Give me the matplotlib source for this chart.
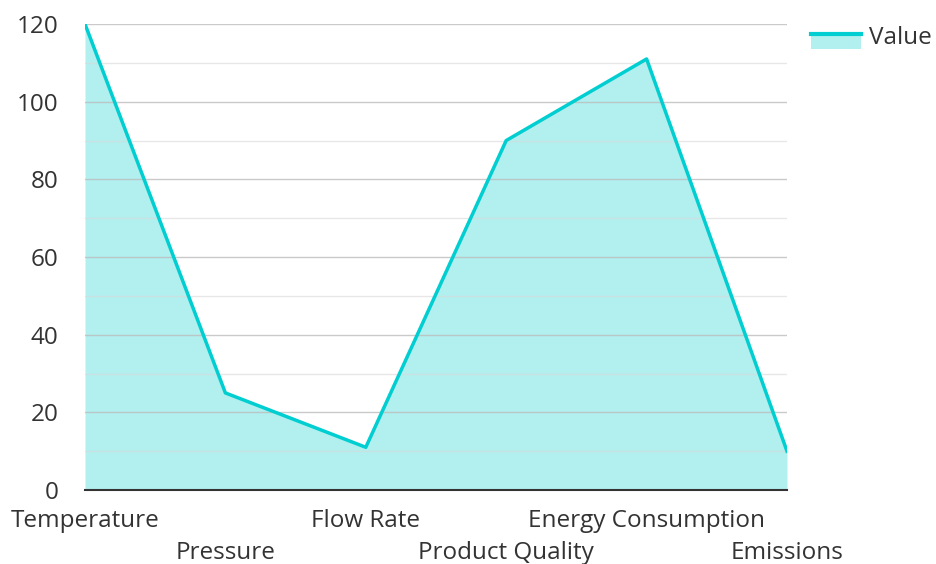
import matplotlib.pyplot as plt
from matplotlib.lines import Line2D
from matplotlib.patches import Patch, Rectangle


plt.rcParams['font.family'] = ['Open Sans', 'DejaVu Sans']

categories = ['Temperature', 'Pressure', 'Flow Rate', 'Product Quality', 'Energy Consumption', 'Emissions']
values = [120, 25, 11, 90, 111, 10]

line_color = '#00CED1'
fill_color = '#b2efef'
text_color = '#333333'
fsize = 17.5


# legend key: fill box hanging under a line drawn at the text's mid height
class AreaHandler:
    def legend_artist(self, legend, orig_handle, fontsize, handlebox):
        x0, y0 = handlebox.xdescent, handlebox.ydescent
        w, h = handlebox.width, handlebox.height
        top = y0 + h * 0.5 + 1
        bot = top - 11
        rect = Rectangle((x0, bot), w, top - bot, facecolor=fill_color,
                         edgecolor='none', transform=handlebox.get_transform())
        ln = Line2D([x0, x0 + w], [top, top], color=line_color, linewidth=3,
                    transform=handlebox.get_transform())
        handlebox.add_artist(rect)
        handlebox.add_artist(ln)
        return rect


fig = plt.figure(figsize=(9.36, 5.64), dpi=100)
ax = fig.add_axes([0.0908, 0.1312, 0.75, 0.8262])

x = list(range(len(categories)))
ax.fill_between(x, values, 0, color=fill_color, zorder=1, linewidth=0)
ax.plot(x, values, color=line_color, linewidth=2.5, zorder=3)

ax.set_xlim(0, len(categories) - 1)
ax.set_ylim(0, 120)
ax.set_yticks(range(0, 121, 20))
ax.set_yticks(range(10, 120, 20), minor=True)
ax.grid(True, which='major', axis='y', color='#bdbdbd', linewidth=1, alpha=0.8, zorder=2)
ax.grid(True, which='minor', axis='y', color='#d8d8d8', linewidth=1, alpha=0.6, zorder=2)
ax.set_axisbelow(False)

# staggered category labels: even ones on the first row, odd ones on the second
ax.set_xticks(x[0::2], categories[0::2])
ax.set_xticks(x[1::2], categories[1::2], minor=True)
ax.tick_params(axis='x', which='major', length=0, pad=14, labelsize=fsize, labelcolor=text_color)
ax.tick_params(axis='x', which='minor', length=0, pad=37, labelsize=fsize, labelcolor=text_color)
ax.tick_params(axis='y', which='both', length=0, pad=19, labelsize=fsize, labelcolor=text_color)

for s in ['top', 'right', 'left']:
    ax.spines[s].set_visible(False)
ax.spines['bottom'].set_color('#333333')
ax.spines['bottom'].set_linewidth(1.5)
ax.spines['bottom'].set_zorder(4)

ax.legend([Patch()], ['Value'], handler_map={Patch: AreaHandler()},
          loc='upper left', bbox_to_anchor=(811 / 936, 1 - 26 / 564),
          bbox_transform=fig.transFigure, frameon=False, borderpad=0, borderaxespad=0,
          fontsize=fsize, handlelength=2.05, handletextpad=0.35, labelcolor=text_color)

fig.savefig('out.png', dpi=100)
